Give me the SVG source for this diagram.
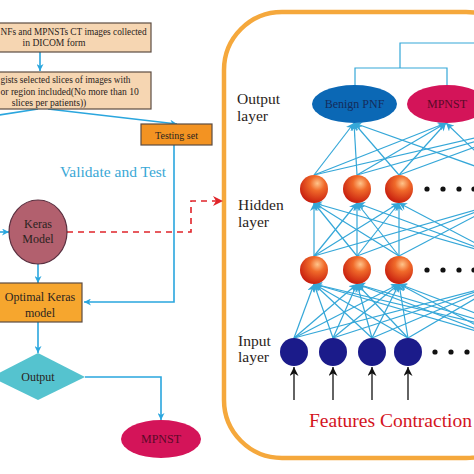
<svg xmlns="http://www.w3.org/2000/svg" width="474" height="474" viewBox="0 0 474 474">
<defs>
<style>
.t{font-family:"Liberation Serif","Times New Roman",serif;fill:#2a2320}
.flow{fill:none;stroke:#2aa6de;stroke-width:1.6}
.net{fill:none;stroke:#35a7d8;stroke-width:1.2}
.box{fill:#f6d6b2;stroke:#5d4c42;stroke-width:1.2}
</style>
<marker id="ab" viewBox="0 0 10 10" refX="10" refY="5" markerWidth="7" markerHeight="7" markerUnits="userSpaceOnUse" orient="auto"><path d="M0,0L10,5L0,10L3,5z" fill="#2aa6de"/></marker>
<marker id="an" viewBox="0 0 10 10" refX="10" refY="5" markerWidth="8" markerHeight="8" markerUnits="userSpaceOnUse" orient="auto"><path d="M0,0L10,5L0,10L3,5z" fill="#35a7d8"/></marker>
<marker id="ar" viewBox="0 0 10 10" refX="10" refY="5" markerWidth="10" markerHeight="10" markerUnits="userSpaceOnUse" orient="auto"><path d="M0,0L10,5L0,10L3,5z" fill="#e0242a"/></marker>
<marker id="ak" viewBox="0 0 10 10" refX="10" refY="5" markerWidth="9" markerHeight="9" markerUnits="userSpaceOnUse" orient="auto"><path d="M0,0L10,5L0,10L3,5z" fill="#111"/></marker>
<radialGradient id="sph" cx="0.62" cy="0.3" r="0.75">
<stop offset="0" stop-color="#ffc48a"/>
<stop offset="0.35" stop-color="#f06a2a"/>
<stop offset="1" stop-color="#c4180c"/>
</radialGradient>
</defs>
<rect width="474" height="474" fill="#fff"/>

<!-- orange frame -->
<rect id="frame" x="224" y="12" width="300" height="446" rx="58" ry="58" fill="none" stroke="#f5a83c" stroke-width="4.5"/>

<g id="connectors">
<!-- left flow -->
<path class="flow" d="M40,52V71" marker-end="url(#ab)"/>
<path class="flow" d="M38,109L-20,118"/>
<path class="flow" d="M48,109L177,124" marker-end="url(#ab)"/>
<path class="flow" d="M174,145V302H84" marker-end="url(#ab)"/>
<path class="flow" d="M-10,232H9" marker-end="url(#ab)"/>
<path class="flow" d="M38,264V283" marker-end="url(#ab)"/>
<path class="flow" d="M38,322V353" marker-end="url(#ab)"/>
<path class="flow" d="M85,377H161V420" marker-end="url(#ab)"/>
<path d="M67,232H191V201H223" fill="none" stroke="#e0242a" stroke-width="1.6" stroke-dasharray="6,5" marker-end="url(#ar)"/>
<!-- output tree -->
<path class="net" d="M355,85V68H447V85M400,68V43H480"/>
<!-- input to hidden2 -->
<g class="net" marker-end="url(#an)">
<path d="M294,338L314,284"/><path d="M333,338L314,284"/><path d="M372,338L314,284"/><path d="M408,338L314,284"/><path d="M500,338L314,284"/><path d="M540,338L314,284"/>
<path d="M294,338L357,284"/><path d="M333,338L357,284"/><path d="M372,338L357,284"/><path d="M408,338L357,284"/><path d="M500,338L357,284"/><path d="M540,338L357,284"/>
<path d="M294,338L399,284"/><path d="M333,338L399,284"/><path d="M372,338L399,284"/><path d="M408,338L399,284"/><path d="M500,338L399,284"/><path d="M540,338L399,284"/>
<path d="M294,338L500,284"/><path d="M333,338L500,284"/><path d="M372,338L500,284"/><path d="M408,338L500,284"/>
<!-- hidden2 to hidden1 -->
<path d="M314,256L314,203"/><path d="M357,256L314,203"/><path d="M399,256L314,203"/><path d="M500,256L314,203"/>
<path d="M314,256L357,203"/><path d="M357,256L357,203"/><path d="M399,256L357,203"/><path d="M500,256L357,203"/>
<path d="M314,256L399,203"/><path d="M357,256L399,203"/><path d="M399,256L399,203"/><path d="M500,256L399,203"/>
<path d="M314,256L500,203"/><path d="M357,256L500,203"/><path d="M399,256L500,203"/>
<!-- hidden1 to output -->
<path d="M314,175L354,123"/><path d="M357,175L354,123"/><path d="M399,175L354,123"/><path d="M500,175L354,123"/>
<path d="M314,175L446,123"/><path d="M357,175L446,123"/><path d="M399,175L446,123"/><path d="M500,175L446,123"/>
<path d="M314,175L540,123"/><path d="M357,175L540,123"/><path d="M399,175L540,123"/>
</g>
<!-- feature arrows -->
<g fill="none" stroke="#222" stroke-width="1.4" marker-end="url(#ak)">
<path d="M294,400V367"/><path d="M333,400V367"/><path d="M372,400V367"/><path d="M408,400V367"/>
</g>
</g>

<g id="box-collected">
<rect class="box" x="-45" y="23" width="196" height="29"/>
<text class="t" x="0.5" y="34.5" font-size="9.3">NFs and MPNSTs CT images collected</text>
<text class="t" x="54" y="46" font-size="9.6" text-anchor="middle">in DICOM form</text>
</g>
<g id="box-selected">
<rect class="box" x="-50" y="72" width="201" height="37"/>
<text class="t" x="0.5" y="83" font-size="9.3">gists selected slices of images with</text>
<text class="t" x="0.5" y="94.5" font-size="9.6">or region included(No more than 10</text>
<text class="t" x="49" y="106" font-size="9.6" text-anchor="middle">slices per patients))</text>
</g>
<g id="testing-set">
<rect x="141" y="124" width="71" height="21" fill="#f39322" stroke="#5d4c42" stroke-width="1.2"/>
<text class="t" x="176.5" y="138.5" font-size="10" text-anchor="middle">Testing set</text>
</g>
<text id="validate" class="t" x="113" y="177" font-size="15.5" text-anchor="middle" style="fill:#3aa8d6">Validate and Test</text>
<g id="keras-model">
<ellipse cx="38" cy="232" rx="29" ry="32" fill="#b2606e" stroke="#5a3040" stroke-width="1.2"/>
<text class="t" x="38" y="228" font-size="12" text-anchor="middle">Keras</text>
<text class="t" x="38" y="243" font-size="12" text-anchor="middle">Model</text>
</g>
<g id="optimal-keras">
<rect x="-10" y="283" width="92" height="39" fill="#f6a62e" stroke="#5d4c42" stroke-width="1.2"/>
<text class="t" x="40" y="301" font-size="12" text-anchor="middle">Optimal Keras</text>
<text class="t" x="40" y="317" font-size="12" text-anchor="middle">model</text>
</g>
<g id="output-decision">
<polygon points="38,353 85,377 38,400 -9,377" fill="#55c3cf"/>
<text class="t" x="38" y="381" font-size="12" text-anchor="middle">Output</text>
</g>
<g id="mpnst-left">
<ellipse cx="161" cy="439" rx="40" ry="19" fill="#d41459"/>
<text class="t" x="161" y="443" font-size="12" text-anchor="middle" style="fill:#5a0a28">MPNST</text>
</g>

<g id="layer-labels">
<text class="t" x="237" y="104" font-size="15.5">Output</text>
<text class="t" x="237" y="121" font-size="15.5">layer</text>
<text class="t" x="238" y="210" font-size="15.5">Hidden</text>
<text class="t" x="238" y="227" font-size="15.5">layer</text>
<text class="t" x="238" y="346" font-size="15.5">Input</text>
<text class="t" x="238" y="362" font-size="15.5">layer</text>
</g>

<g id="out-benign">
<ellipse cx="354.5" cy="104" rx="42.5" ry="19" fill="#0b68b5"/>
<text class="t" x="354.5" y="108" font-size="12" text-anchor="middle" style="fill:#142c5c">Benign PNF</text>
</g>
<g id="out-mpnst">
<ellipse cx="447" cy="104" rx="40" ry="19" fill="#d41459"/>
<text class="t" x="447" y="108" font-size="12" text-anchor="middle" style="fill:#5a0a28">MPNST</text>
</g>

<g id="hidden1">
<circle cx="314" cy="189" r="14" fill="url(#sph)"/>
<circle cx="357" cy="189" r="14" fill="url(#sph)"/>
<circle cx="399" cy="189" r="14" fill="url(#sph)"/>
<g fill="#111"><circle cx="427" cy="189" r="2.6"/><circle cx="443" cy="189" r="2.6"/><circle cx="459" cy="189" r="2.6"/><circle cx="474" cy="189" r="2.6"/></g>
</g>
<g id="hidden2">
<circle cx="314" cy="270" r="14" fill="url(#sph)"/>
<circle cx="357" cy="270" r="14" fill="url(#sph)"/>
<circle cx="399" cy="270" r="14" fill="url(#sph)"/>
<g fill="#111"><circle cx="427" cy="270" r="2.6"/><circle cx="443" cy="270" r="2.6"/><circle cx="459" cy="270" r="2.6"/><circle cx="474" cy="270" r="2.6"/></g>
</g>
<g id="input">
<circle cx="294" cy="352" r="14" fill="#1b1b8a"/>
<circle cx="333" cy="352" r="14" fill="#1b1b8a"/>
<circle cx="372" cy="352" r="14" fill="#1b1b8a"/>
<circle cx="408" cy="352" r="14" fill="#1b1b8a"/>
<g fill="#111"><circle cx="435" cy="352" r="2.6"/><circle cx="451" cy="352" r="2.6"/><circle cx="467" cy="352" r="2.6"/></g>
</g>
<text id="features" x="309" y="427" font-family="Liberation Serif, Times New Roman, serif" font-size="19.5" fill="#d4141e">Features Contraction</text>
</svg>
